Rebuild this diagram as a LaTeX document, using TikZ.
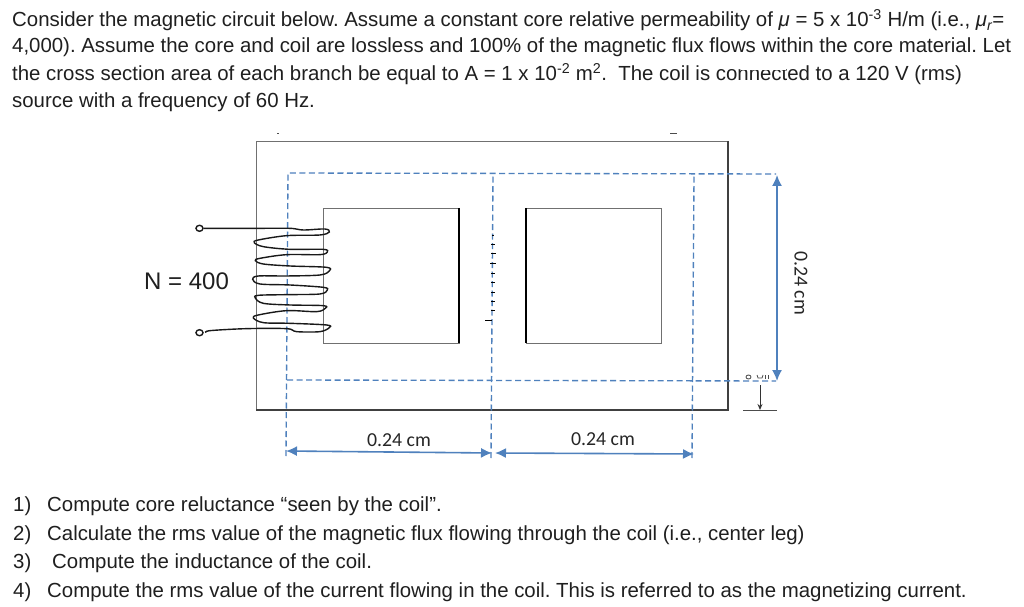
\documentclass[tikz,border=0pt]{standalone}
\usepackage{fontspec}
\setmainfont{Liberation Sans}
\newfontfamily\dimfont{Carlito}
\usetikzlibrary{arrows.meta,shapes.geometric}
\definecolor{dimblue}{HTML}{4F81BD}
\definecolor{coregray}{HTML}{707070}
\frenchspacing
\tikzset{
  x=1bp,y=-1bp,
  prose/.style={anchor=base west,inner sep=0pt,font=\fontsize{20.4bp}{22bp}\selectfont,text=black!88},
  dimtext/.style={inner sep=0pt,font=\dimfont\fontsize{19.8bp}{22bp}\selectfont,text=black!85},
  coreline/.style={draw=coregray,line width=.9bp},
  thickside/.style={draw=black,line width=1.8bp},
  guide/.style={draw=dimblue,line width=1.35bp,dash pattern=on 6bp off 3.5bp},
  dimarrow/.style={draw=dimblue,line width=1.6bp,{Latex[length=11bp,width=10bp]}-{Latex[length=11bp,width=10bp]}},
  coilwire/.style={draw=black!90,line width=1.4bp,smooth,tension=.55},
  terminal/.style={draw=black!90,line width=1.4bp,ellipse,inner sep=0pt,minimum width=7bp,minimum height=6bp},
  marktick/.style={draw=black,line width=1bp},
}
\newcommand{\qnum}[1]{\makebox[34bp][l]{#1}}
\begin{document}
\begin{tikzpicture}
\useasboundingbox (0,0) rectangle (1024,607);
\fill[white] (0,0) rectangle (1024,607);
% statement
\node[prose] (l1) at (12,27) {Consider the magnetic circuit below. Assume a constant core relative permeability of \textit{μ} = 5 x 10\textsuperscript{-3} H/m (i.e., \textit{μ\textsubscript{r}}=};
\node[prose] (l2) at (12,53) {4,000). Assume the core and coil are lossless and 100\% of the magnetic flux flows within the core material. Let};
\node[prose] (l3) at (12,81) {the cross section area of each branch be equal to A = 1 x 10\textsuperscript{-2} m\textsuperscript{2}.\ \ The coil is connected to a 120 V (rms)};
\node[prose] (l4) at (12,108) {source with a frequency of 60 Hz.};
\fill[white] (741,64.5) rectangle (786,70);
% core
\draw[coreline] (256,141) rectangle (728,410);
\draw[draw=black!75,line width=1.2bp] (728,141) -- (728,410) -- (256,410);
\draw[coreline] (323,208) rectangle (459,343);
\draw[thickside] (459,208) -- (459,343);
\draw[coreline] (526,208) rectangle (661,343);
\draw[thickside] (526,208) -- (526,343);
% stray marks
\draw[black!70,line width=.8bp] (277,133.5) -- (279,133.5);
\draw[black!70,line width=.8bp] (670,133) -- (677,133);
% guides
\draw[guide] (286,456) -- (288,173) -- (776,174);
\draw[guide] (491,458) -- (493,175);
\draw[guide] (692,458) -- (694,176);
\draw[guide] (287,380) -- (776,381);
% ticks on the centre guide
\foreach \yy/\xa/\xb in {236/492/494,245/491/495,254/491/496,264/490/496,273/491/495,282/491/495,292/491/495,301/491/495,310/491/495,320/485/492}
  \draw[marktick] (\xa,\yy) -- (\xb,\yy);
% dimension arrows
\coordinate (dl1) at (286,451);
\coordinate (dr1) at (492,453);
\coordinate (dl2) at (495,453);
\coordinate (dr2) at (694,454);
\coordinate (vt) at (777,175);
\coordinate (vb) at (777,381);
\draw[dimarrow] (dl1) -- (dr1);
\draw[dimarrow] (dl2) -- (dr2);
\draw[dimarrow] (vt) -- (vb);
\node[dimtext] (d1) at (399,440) {0.24 cm};
\node[dimtext] (d2) at (603,439) {0.24 cm};
\node[dimtext,rotate=-90] (d3) at (801,283) {0.24 cm};
% clipped small label
\draw[black!70,line width=.8bp] (748.5,377) ellipse [x radius=2.5, y radius=2];
\draw[black!70,line width=.8bp] (757,375) -- (758,378) -- (762,378) -- (763,375);
\draw[black!70,line width=.8bp] (765,375) -- (765,379) (768,375) -- (768,379);
% small thickness mark
\coordinate (mt) at (760,385);
\coordinate (mb) at (760,410);
\draw[draw=black!80,line width=1bp,-{Stealth[length=6bp,width=5bp]}] (mt) -- (mb);
\draw[draw=black!70,line width=1bp] (743,410) -- (777,410);
% coil
\node[terminal] (t1) at (199.5,228.3) {};
\node[terminal] (t2) at (199.5,332.7) {};
\begin{scope}[shift={(130,190)},x=.3333bp,y=-.3333bp]
\draw[coilwire] plot coordinates {(222,115) (380,115) (480,115) (520,120) (585,117) (598,126) (570,135) (470,137) (385,150) (373,158) (400,170) (480,178) (580,178) (592,186) (570,194) (470,194) (390,205) (376,212) (400,222) (480,228) (590,232) (598,243) (570,255) (470,258) (385,258) (368,268) (390,282) (480,285) (580,292) (592,300) (570,312) (470,314) (385,316) (376,324) (400,340) (480,345) (580,347) (586,355) (560,365) (470,362) (385,375) (370,384) (400,398) (480,400) (590,405) (598,413) (570,425) (500,425) (470,416) (350,416) (240,422) (228,428)};
\end{scope}
\node[inner sep=0pt,anchor=base west,font=\fontsize{24bp}{26bp}\selectfont,text=black!88] (nlab) at (144,289.5) {N = 400};
% questions
\node[prose] (q1) at (13,511) {\qnum{1)}Compute core reluctance “seen by the coil”.};
\node[prose] (q2) at (13,540) {\qnum{2)}Calculate the rms value of the magnetic flux flowing through the coil (i.e., center leg)};
\node[prose] (q3) at (13,568) {\makebox[39bp][l]{3)}Compute the inductance of the coil.};
\node[prose] (q4) at (13,597) {\qnum{4)}Compute the rms value of the current flowing in the coil. This is referred to as the magnetizing current.};
\end{tikzpicture}
\end{document}
